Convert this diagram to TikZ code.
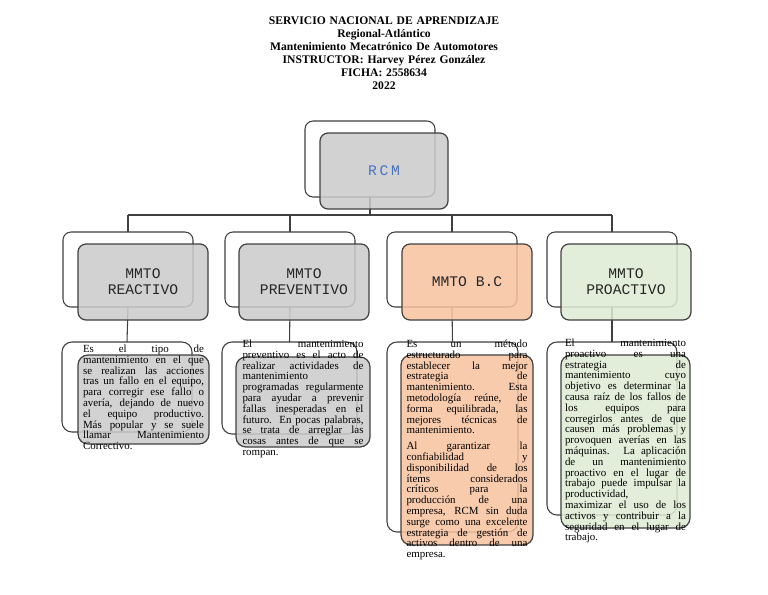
\documentclass[tikz,border=0pt]{standalone}
\usepackage{fontspec}
\setmainfont{Liberation Serif}
\newfontfamily\boxfont{Liberation Mono}
\definecolor{linec}{HTML}{404040}
\definecolor{labelc}{HTML}{262626}
\definecolor{rcmblue}{HTML}{4472C4}
\definecolor{grayfill}{HTML}{CBCBCB}
\definecolor{peachfill}{HTML}{F7C29F}
\definecolor{greenfill}{HTML}{DDECD3}
\begin{document}
\begin{tikzpicture}[x=0.75pt,y=-0.75pt,
  backbox/.style={draw=linec, fill=white, rounded corners=6pt, line width=0.8pt, inner sep=0pt, outer sep=0pt},
  frontbox/.style={draw=linec, rounded corners=6pt, line width=0.9pt, fill opacity=0.85, text opacity=1, inner sep=0pt, outer sep=0pt, font=\boxfont\fontsize{11}{12}\selectfont, text=labelc, align=center},
  conn/.style={draw=linec, line width=0.8pt},
  desc/.style={text width=90.75pt, align=justify, inner sep=0pt, anchor=base, font=\fontsize{8.2}{8.1}\selectfont},
  lvlone/.style={minimum width=97.5pt, minimum height=56.25pt},
  lvlonef/.style={minimum width=97.5pt, minimum height=57pt}]
\useasboundingbox[fill=white] (0,0) rectangle (768,594);

% header
\node[text width=300pt, align=center, inner sep=0pt, anchor=base,
      font=\bfseries\fontsize{8.7}{9.75}\selectfont] (head) at (384,24)
  {SERVICIO NACIONAL DE APRENDIZAJE\\ Regional-Atlántico\\ Mantenimiento Mecatrónico De Automotores\\ INSTRUCTOR: Harvey Pérez González\\ FICHA: 2558634\\ 2022};

% back frames
\node[backbox, minimum width=97.5pt, minimum height=57pt] (rcmB) at (370,159) {};
\node[backbox, lvlone] (rB) at (128,269.5) {};
\node[backbox, lvlone] (pB) at (290,269.5) {};
\node[backbox, lvlone] (bB) at (452,269.5) {};
\node[backbox, lvlone] (aB) at (612,269.5) {};
\node[backbox, rounded corners=7.5pt, minimum width=97.5pt, minimum height=67.5pt] (rtB) at (127,387) {};
\node[backbox, rounded corners=7.5pt, minimum width=101.25pt, minimum height=69pt] (ptB) at (289.5,388) {};
\node[backbox, rounded corners=7.5pt, minimum width=98.25pt, minimum height=142.5pt] (btB) at (452.5,437) {};
\node[backbox, rounded corners=7.5pt, minimum width=97.5pt, minimum height=129.75pt] (atB) at (612,428.5) {};

% connectors
\coordinate (bar) at (0,215);
\draw[conn] (rcmB.south) -- (rcmB.south |- bar);
\draw[conn] (rB.north |- bar) -- (aB.north |- bar);
\draw[conn] (rB.north |- bar) -- (rB.north);
\draw[conn] (pB.north |- bar) -- (pB.north);
\draw[conn] (bB.north |- bar) -- (bB.north);
\draw[conn] (aB.north |- bar) -- (aB.north);
\draw[conn] (rB.south) -- (rtB.north);
\draw[conn] (pB.south) -- (ptB.north);
\draw[conn] (bB.south) -- (btB.north);
\draw[conn] (aB.south) -- (atB.north);

% front boxes
\node[frontbox, fill=grayfill, minimum width=96pt, minimum height=57pt, text=rcmblue] (rcm) at (384,171) {R\hspace{2pt}C\hspace{2pt}M};
\node[frontbox, lvlonef, fill=grayfill] (r) at (143,282) {MMTO\\REACTIVO};
\node[frontbox, lvlonef, fill=grayfill] (p) at (304,282) {MMTO\\PREVENTIVO};
\node[frontbox, lvlonef, fill=peachfill] (b) at (467,282) {MMTO B.C};
\node[frontbox, lvlonef, fill=greenfill] (a) at (626,282) {MMTO\\PROACTIVO};

\node[frontbox, rounded corners=7.5pt, fill=grayfill, minimum width=98.25pt, minimum height=66.75pt] (rt) at (143.5,399.5) {};
\node[frontbox, rounded corners=7.5pt, fill=grayfill, minimum width=100.5pt, minimum height=67.5pt] (pt) at (303,402) {};
\node[frontbox, rounded corners=7.5pt, fill=peachfill, minimum width=99pt, minimum height=142.5pt] (bt) at (467,450) {};
\node[frontbox, rounded corners=7.5pt, fill=greenfill, minimum width=96.75pt, minimum height=129.75pt] (at) at (625.5,441.5) {};

% descriptions
\node[desc] (rtx) at (143.5,352.5) {Es el tipo de\linebreak mantenimiento en el que\linebreak se realizan las acciones\linebreak tras un fallo en el equipo,\linebreak para corregir ese fallo o\linebreak avería, dejando de nuevo\linebreak el equipo productivo.\linebreak Más popular y se suele\linebreak llamar Mantenimiento\linebreak Correctivo.};
\node[desc] (ptx) at (303,347.5) {El mantenimiento\linebreak preventivo es el acto de\linebreak realizar actividades de\linebreak mantenimiento\linebreak programadas regularmente\linebreak para ayudar a prevenir\linebreak fallas inesperadas en el\linebreak futuro. En pocas palabras,\linebreak se trata de arreglar las\linebreak cosas antes de que se\linebreak rompan.};
\node[desc] (btx) at (467,347.5) {Es un método\linebreak estructurado para\linebreak establecer la mejor\linebreak estrategia de\linebreak mantenimiento. Esta\linebreak metodología reúne, de\linebreak forma equilibrada, las\linebreak mejores técnicas de\linebreak mantenimiento.\par\vspace{3.8pt}Al garantizar la\linebreak confiabilidad y\linebreak disponibilidad de los\linebreak ítems considerados\linebreak críticos para la\linebreak producción de una\linebreak empresa, RCM sin duda\linebreak surge como una excelente\linebreak estrategia de gestión de\linebreak activos dentro de una\linebreak empresa.};
\node[desc] (atx) at (625.5,346.5) {El mantenimiento\linebreak proactivo es una\linebreak estrategia de\linebreak mantenimiento cuyo\linebreak objetivo es determinar la\linebreak causa raíz de los fallos de\linebreak los equipos para\linebreak corregirlos antes de que\linebreak causen más problemas y\linebreak provoquen averías en las\linebreak máquinas. La aplicación\linebreak de un mantenimiento\linebreak proactivo en el lugar de\linebreak trabajo puede impulsar la\linebreak productividad,\linebreak maximizar el uso de los\linebreak activos y contribuir a la\linebreak seguridad en el lugar de\linebreak trabajo.};
\end{tikzpicture}
\end{document}
